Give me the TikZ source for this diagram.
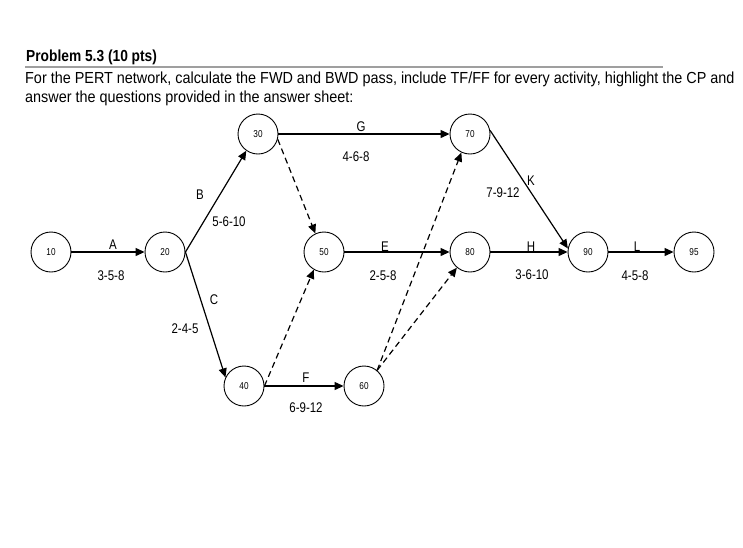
\documentclass[tikz,border=0pt]{standalone}
\usepackage{fontspec}
\setmainfont{Liberation Sans}[FakeStretch=0.82]
\newfontfamily\bodyfont{Liberation Sans}[FakeStretch=0.9]
\newfontfamily\titlefont{Liberation Sans}[FakeStretch=0.86]
\usetikzlibrary{arrows.meta}
\begin{document}
\begin{tikzpicture}[x=1pt,y=-1pt,
  ev/.style={draw,circle,minimum size=40pt,inner sep=0pt,line width=0.9pt,font=\fontsize{10}{10}\selectfont},
  act/.style={line width=1.2pt,-{Triangle[length=9pt,width=8pt]}},
  dum/.style={line width=1.2pt,dash pattern=on 6pt off 4pt,-{Triangle[length=9pt,width=8pt]}},
  lab/.style={font=\fontsize{14}{14}\selectfont,inner sep=0pt},
  txt/.style={anchor=base west,inner sep=0pt,font=\bodyfont\fontsize{16}{16}\selectfont}]
\useasboundingbox (0,0) rectangle (743,547);
\fill[white] (0,0) rectangle (743,547);
\node[txt,font=\titlefont\fontsize{16}{16}\selectfont\bfseries] (title) at (26,61.5) {Problem 5.3 (10 pts)};
\draw[gray!75,line width=2pt] (25,66.5) -- (663,66.5);
\node[txt] (l1) at (25,83) {For the PERT network, calculate the FWD and BWD pass, include TF/FF for every activity, highlight the CP and};
\node[txt] (l2) at (25,102) {answer the questions provided in the answer sheet:};

\node[ev] (n10) at (51,252) {10};
\node[ev] (n20) at (165,252) {20};
\node[ev] (n30) at (258,134) {30};
\node[ev] (n50) at (324,252) {50};
\node[ev] (n70) at (470,134) {70};
\node[ev] (n80) at (470,252) {80};
\node[ev] (n90) at (588,252) {90};
\node[ev] (n95) at (694,252) {95};
\node[ev] (n40) at (244,386) {40};
\node[ev] (n60) at (364,386) {60};

\draw[act] (n10) -- (n20);
\draw[act] (n20.east) -- (n30.-125);
\draw[act] (n20.east) -- (n40.155);
\draw[act] (n30) -- (n70);
\draw[act] (n50) -- (n80);
\draw[act] (n40) -- (n60);
\draw[act] (n70.10) -- (n90.170);
\draw[act] (n80) -- (n90);
\draw[act] (n90) -- (n95);
\draw[dum] (n30.-15) -- (n50.115);
\draw[dum] (n40.east) -- (n50.-120);
\draw[dum] (n60.50) -- (n70.-115);
\draw[dum] (n60.50) -- (n80.-130);

\node[lab] (la) at (113,245) {A};
\node[lab] (da) at (111,276) {3-5-8};
\node[lab] (lb) at (200,195) {B};
\node[lab] (db) at (229,222) {5-6-10};
\node[lab] (lc) at (214,300) {C};
\node[lab] (dc) at (185,329) {2-4-5};
\node[lab] (lg) at (361,127) {G};
\node[lab] (dg) at (356,157) {4-6-8};
\node[lab] (le) at (385,247) {E};
\node[lab] (de) at (383,276) {2-5-8};
\node[lab] (lf) at (306,378) {F};
\node[lab] (df) at (306,408) {6-9-12};
\node[lab] (lk) at (531,181) {K};
\node[lab] (dk) at (503,193) {7-9-12};
\node[lab] (lh) at (531,247) {H};
\node[lab] (dh) at (532,275) {3-6-10};
\node[lab] (ll) at (637,247) {L};
\node[lab] (dl) at (635,276) {4-5-8};
\end{tikzpicture}
\end{document}
